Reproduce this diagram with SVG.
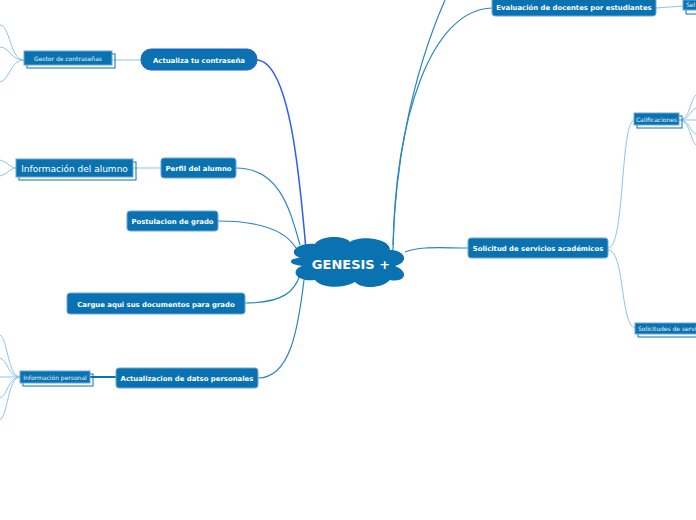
<svg xmlns="http://www.w3.org/2000/svg" width="696" height="520" viewBox="0 0 696 520">
<style>
.n{fill:#0a72b0}
.r{fill:#0a72b0;stroke:#6aa8d6;stroke-width:1}
.sh{fill:none;stroke:#0a72b0;stroke-width:1}
.t{font-family:"DejaVu Sans",sans-serif;font-weight:bold;font-size:6.9px;fill:#fff;text-anchor:middle}
.s{font-family:"DejaVu Sans",sans-serif;font-size:6px;fill:#e8f2fa}
.m{text-anchor:middle}
.c{fill:none;stroke:#2a86c2;stroke-width:1.2}
.l{fill:none;stroke:#8ec3e6;stroke-width:1}
</style>
<g id="connectors">
<path d="M257,60 C290,62 300,180 306,250" fill="none" stroke="#2b5cff" stroke-width="1.5"/>
<path d="M236,168 C280,168 290,210 300,245" class="c"/>
<path d="M218,221 C260,221 285,230 296,248" class="c"/>
<path d="M245,303 C285,303 295,290 300,275" class="c"/>
<path d="M258,378 C290,378 298,330 304,280" class="c"/>
<path d="M393,245 C395,170 410,80 445,0" class="c"/>
<path d="M393,250 C395,120 430,10 492,8" class="c"/>
<path d="M405,252 C420,246 440,248 468,248" class="c"/>
<path d="M112,60 L141,60" class="l" stroke-width="2"/>
<path d="M133,168 L161,168" class="l" stroke-width="1.5"/>
<path d="M90,377 L116,377" stroke="#0a72b0" stroke-width="2" fill="none"/>
<path d="M656,8 L683,6" class="l"/>
<path d="M608,248 C625,248 620,125 634,120" class="l"/>
<path d="M608,250 C625,250 620,325 635,328" class="l"/>
<path d="M24,60 C10,60 10,25 0,25 M24,60 C10,60 10,47 0,47 M24,60 C10,60 10,80 0,82" class="l"/>
<path d="M16,168 C10,168 8,162 0,160 M16,168 C10,168 8,174 0,176" class="l"/>
<path d="M20,377 C8,377 8,340 0,335 M20,377 C8,377 8,360 0,358 M20,377 L0,377 M20,377 C8,377 8,395 0,398 M20,377 C8,377 8,415 0,420" class="l"/>
<path d="M679,120 C690,120 690,100 696,95 M679,120 C690,120 690,110 696,108 M679,120 L696,120 M679,120 C690,120 690,132 696,134 M679,120 C690,120 690,140 696,145" class="l"/>
</g>
<g id="center">
<path d="M300,258 C285,252 300,242 315,244 C320,235 345,235 350,242 C360,235 390,238 390,250 C405,250 410,262 395,266 C410,272 405,283 390,280 C380,290 360,288 355,282 C340,290 320,287 315,280 C295,282 290,270 302,266 C285,264 290,258 300,258 Z" class="n"/>
<text x="351" y="269" font-family="DejaVu Sans,sans-serif" font-weight="bold" font-size="13" fill="#fff" text-anchor="middle">GENESIS +</text>
</g>
<g id="actualiza"><rect x="141" y="49" width="116" height="21" rx="10" fill="#0a72b0" stroke="#1f5fd6"/><text x="199" y="62.5" class="t">Actualiza tu contraseña</text></g>
<g id="gestor"><rect x="27" y="54" width="88" height="14" class="sh"/><rect x="24" y="51" width="88" height="14" class="r"/><text x="68" y="60.5" class="s m">Gestor de contraseñas</text></g>
<g id="perfil"><rect x="161" y="158" width="75" height="20" rx="3" class="r"/><text x="198.5" y="171" class="t">Perfil del alumno</text></g>
<g id="info-alumno"><rect x="19" y="162" width="117" height="18" class="sh"/><rect x="16" y="159" width="117" height="18" class="r"/><text x="74.5" y="171.5" font-family="DejaVu Sans,sans-serif" font-size="9" fill="#fff" text-anchor="middle">Información del alumno</text></g>
<g id="postulacion"><rect x="127" y="211" width="91" height="20" rx="3" class="r"/><text x="172.5" y="224" class="t">Postulacion de grado</text></g>
<g id="cargue"><rect x="67" y="293" width="178" height="21" rx="3" class="r"/><text x="156" y="306.5" class="t">Cargue aqui sus documentos para grado</text></g>
<g id="datos"><rect x="116" y="368" width="142" height="20" rx="3" class="r"/><text x="187" y="381" class="t">Actualizacion de datso personales</text></g>
<g id="info-personal"><rect x="23" y="374" width="70" height="12" class="sh"/><rect x="20" y="371" width="70" height="12" class="r"/><text x="55" y="379.5" class="s m" font-size="5.3">Información personal</text></g>
<g id="evaluacion"><rect x="492" y="-4" width="164" height="20" rx="3" class="r"/><text x="574" y="10" class="t">Evaluación de docentes por estudiantes</text></g>
<g id="sel"><rect x="686" y="3" width="14" height="11" class="sh"/><rect x="683" y="0" width="16" height="10" class="r"/><text x="686" y="7" class="s" font-size="5.5">Sel</text></g>
<g id="solicitud"><rect x="468" y="238" width="140" height="20" rx="3" class="r"/><text x="538" y="251" class="t">Solicitud de servicios académicos</text></g>
<g id="calificaciones"><rect x="637" y="116" width="45" height="12" class="sh"/><rect x="634" y="113" width="45" height="12" class="r"/><text x="656.5" y="121.5" class="s m" font-size="5.3">Calificaciones</text></g>
<g id="solicitudes"><rect x="638" y="326" width="62" height="11" class="sh"/><rect x="635" y="323" width="65" height="11" class="r"/><text x="638" y="330.5" class="s" font-size="5.3">Solicitudes de servicios</text></g>
</svg>
